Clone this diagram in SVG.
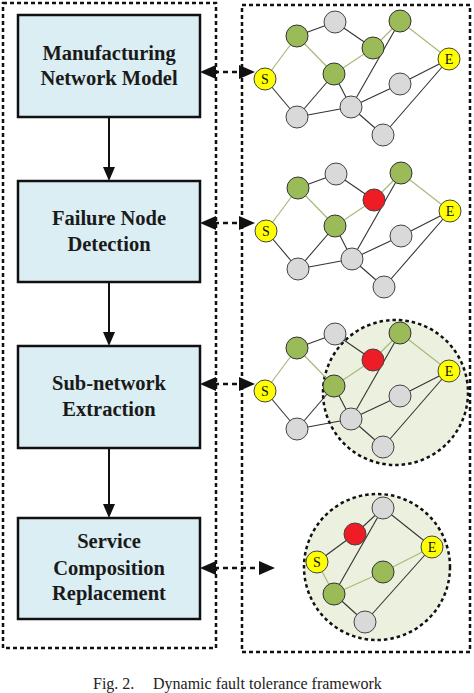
<svg xmlns="http://www.w3.org/2000/svg" width="474" height="693" viewBox="0 0 474 693">
<defs>
<style>
.frame{fill:none;stroke:#111;stroke-width:2.5;stroke-dasharray:4 3}
.box{fill:#dbeef3;stroke:#111;stroke-width:2.5}
.bt{font-family:"Liberation Serif","Times New Roman",serif;font-weight:bold;font-size:20.5px;fill:#1a1a1a;text-anchor:middle}
.cap{font-family:"Liberation Serif","Times New Roman",serif;font-size:16px;fill:#222}
.flow{stroke:#111;stroke-width:2;fill:none}
.bi{stroke:#111;stroke-width:2.5;stroke-dasharray:5 4;fill:none}
.eb{stroke:#333;stroke-width:1.1;fill:none}
.eg{stroke:#a9b97a;stroke-width:1.2;fill:none}
.g{fill:#9bbb59;stroke:#333;stroke-width:1}
.gr{fill:#d9d9d9;stroke:#444;stroke-width:1}
.y{fill:#ffff00;stroke:#444;stroke-width:1}
.r{fill:#ee1c24;stroke:#444;stroke-width:1}
.sub{fill:#ebf0df;stroke:#111;stroke-width:2.5;stroke-dasharray:3.5 3}
.nt{font-family:"Liberation Serif","Times New Roman",serif;font-size:14px;fill:#111;text-anchor:middle}
</style>
<marker id="ah" markerUnits="userSpaceOnUse" markerWidth="16" markerHeight="14" refX="2" refY="7" orient="auto-start-reverse">
<path d="M0,0 L16,7 L0,14 z" fill="#111"/>
</marker>
<marker id="dh" markerUnits="userSpaceOnUse" markerWidth="14" markerHeight="12" refX="2" refY="6" orient="auto">
<path d="M0,0 L14,6 L0,12 z" fill="#111"/>
</marker>
</defs>
<rect width="474" height="693" fill="#fff"/>
<rect class="frame" x="3" y="3" width="213" height="645"/>
<rect class="frame" x="242" y="5" width="228" height="647"/>

<g id="box1"><rect class="box" x="18" y="15" width="182" height="102"/>
<text class="bt" x="109" y="60">Manufacturing</text><text class="bt" x="109" y="85">Network Model</text></g>
<g id="box2"><rect class="box" x="18" y="181" width="182" height="101"/>
<text class="bt" x="109" y="225">Failure Node</text><text class="bt" x="109" y="251">Detection</text></g>
<g id="box3"><rect class="box" x="18" y="346" width="182" height="102"/>
<text class="bt" x="109" y="390">Sub-network</text><text class="bt" x="109" y="416">Extraction</text></g>
<g id="box4"><rect class="box" x="18" y="518" width="182" height="101"/>
<text class="bt" x="109" y="548">Service</text><text class="bt" x="109" y="575">Composition</text><text class="bt" x="109" y="600">Replacement</text></g>

<g id="connectors">
<line class="flow" x1="109" y1="117" x2="109" y2="169" marker-end="url(#dh)"/>
<line class="flow" x1="109" y1="282" x2="109" y2="334" marker-end="url(#dh)"/>
<line class="flow" x1="109" y1="448" x2="109" y2="506" marker-end="url(#dh)"/>
<line class="bi" x1="214" y1="72" x2="241" y2="72" marker-start="url(#ah)" marker-end="url(#ah)"/>
<line class="bi" x1="214" y1="223" x2="241" y2="223" marker-start="url(#ah)" marker-end="url(#ah)"/>
<line class="bi" x1="214" y1="384" x2="241" y2="384" marker-start="url(#ah)" marker-end="url(#ah)"/>
<line class="bi" x1="214" y1="568" x2="261" y2="568" marker-start="url(#ah)" marker-end="url(#ah)"/>
</g>

<!-- Panel 1 -->
<g id="net1">
<g id="net1-edges">
<line class="eg" x1="265" y1="79" x2="297" y2="36"/>
<line class="eb" x1="265" y1="79" x2="297" y2="117"/>
<line class="eb" x1="297" y1="36" x2="335" y2="22"/>
<line class="eg" x1="297" y1="36" x2="334" y2="74"/>
<line class="eb" x1="335" y1="22" x2="373" y2="48"/>
<line class="eg" x1="334" y1="74" x2="373" y2="48"/>
<line class="eg" x1="373" y1="48" x2="400" y2="21"/>
<line class="eg" x1="400" y1="21" x2="449" y2="59"/>
<line class="eb" x1="297" y1="117" x2="334" y2="74"/>
<line class="eb" x1="297" y1="117" x2="351" y2="107"/>
<line class="eb" x1="334" y1="74" x2="351" y2="107"/>
<line class="eb" x1="351" y1="107" x2="400" y2="21"/>
<line class="eb" x1="351" y1="107" x2="400" y2="84"/>
<line class="eb" x1="400" y1="84" x2="449" y2="59"/>
<line class="eb" x1="351" y1="107" x2="383" y2="135"/>
<line class="eb" x1="383" y1="135" x2="449" y2="59"/>
</g>
<g id="n1-S"><circle class="y" cx="265" cy="79" r="11"/><text class="nt" x="265" y="84">S</text></g>
<g id="n1-A"><circle class="g" cx="297" cy="36" r="11"/></g>
<g id="n1-T"><circle class="gr" cx="335" cy="22" r="11"/></g>
<g id="n1-M"><circle class="g" cx="373" cy="48" r="11"/></g>
<g id="n1-TR"><circle class="g" cx="400" cy="21" r="11"/></g>
<g id="n1-E"><circle class="y" cx="449" cy="59" r="11"/><text class="nt" x="449" y="64">E</text></g>
<g id="n1-B"><circle class="g" cx="334" cy="74" r="11"/></g>
<g id="n1-LL"><circle class="gr" cx="297" cy="117" r="11"/></g>
<g id="n1-C"><circle class="gr" cx="351" cy="107" r="11"/></g>
<g id="n1-R"><circle class="gr" cx="400" cy="84" r="11"/></g>
<g id="n1-Bt"><circle class="gr" cx="383" cy="135" r="11"/></g>
</g>

<!-- Panel 2 -->
<g id="net2" transform="translate(1,152)">
<g id="net2-edges">
<line class="eg" x1="265" y1="79" x2="297" y2="36"/>
<line class="eb" x1="265" y1="79" x2="297" y2="117"/>
<line class="eb" x1="297" y1="36" x2="335" y2="22"/>
<line class="eg" x1="297" y1="36" x2="334" y2="74"/>
<line class="eb" x1="335" y1="22" x2="373" y2="48"/>
<line class="eg" x1="334" y1="74" x2="373" y2="48"/>
<line class="eg" x1="373" y1="48" x2="400" y2="21"/>
<line class="eg" x1="400" y1="21" x2="449" y2="59"/>
<line class="eb" x1="297" y1="117" x2="334" y2="74"/>
<line class="eb" x1="297" y1="117" x2="351" y2="107"/>
<line class="eb" x1="334" y1="74" x2="351" y2="107"/>
<line class="eb" x1="351" y1="107" x2="400" y2="21"/>
<line class="eb" x1="351" y1="107" x2="400" y2="84"/>
<line class="eb" x1="400" y1="84" x2="449" y2="59"/>
<line class="eb" x1="351" y1="107" x2="383" y2="135"/>
<line class="eb" x1="383" y1="135" x2="449" y2="59"/>
</g>
<g id="n2-S"><circle class="y" cx="265" cy="79" r="11"/><text class="nt" x="265" y="84">S</text></g>
<g id="n2-A"><circle class="g" cx="297" cy="36" r="11"/></g>
<g id="n2-T"><circle class="gr" cx="335" cy="22" r="11"/></g>
<g id="n2-M"><circle class="r" cx="373" cy="48" r="11"/></g>
<g id="n2-TR"><circle class="g" cx="400" cy="21" r="11"/></g>
<g id="n2-E"><circle class="y" cx="449" cy="59" r="11"/><text class="nt" x="449" y="64">E</text></g>
<g id="n2-B"><circle class="g" cx="334" cy="74" r="11"/></g>
<g id="n2-LL"><circle class="gr" cx="297" cy="117" r="11"/></g>
<g id="n2-C"><circle class="gr" cx="351" cy="107" r="11"/></g>
<g id="n2-R"><circle class="gr" cx="400" cy="84" r="11"/></g>
<g id="n2-Bt"><circle class="gr" cx="383" cy="135" r="11"/></g>
</g>

<!-- Panel 3 -->
<g id="net3" transform="translate(0,312)">
<circle id="sub3" class="sub" cx="395.5" cy="80.5" r="72.5"/>
<g id="net3-edges">
<line class="eg" x1="265" y1="79" x2="297" y2="36"/>
<line class="eb" x1="265" y1="79" x2="297" y2="117"/>
<line class="eb" x1="297" y1="36" x2="335" y2="22"/>
<line class="eg" x1="297" y1="36" x2="334" y2="74"/>
<line class="eb" x1="335" y1="22" x2="373" y2="48"/>
<line class="eg" x1="334" y1="74" x2="373" y2="48"/>
<line class="eg" x1="373" y1="48" x2="400" y2="21"/>
<line class="eg" x1="400" y1="21" x2="449" y2="59"/>
<line class="eb" x1="297" y1="117" x2="334" y2="74"/>
<line class="eb" x1="297" y1="117" x2="351" y2="107"/>
<line class="eb" x1="334" y1="74" x2="351" y2="107"/>
<line class="eb" x1="351" y1="107" x2="400" y2="21"/>
<line class="eb" x1="351" y1="107" x2="400" y2="84"/>
<line class="eb" x1="400" y1="84" x2="449" y2="59"/>
<line class="eb" x1="351" y1="107" x2="383" y2="135"/>
<line class="eb" x1="383" y1="135" x2="449" y2="59"/>
</g>
<g id="n3-S"><circle class="y" cx="265" cy="79" r="11"/><text class="nt" x="265" y="84">S</text></g>
<g id="n3-A"><circle class="g" cx="297" cy="36" r="11"/></g>
<g id="n3-T"><circle class="gr" cx="335" cy="22" r="11"/></g>
<g id="n3-M"><circle class="r" cx="373" cy="48" r="11"/></g>
<g id="n3-TR"><circle class="g" cx="400" cy="21" r="11"/></g>
<g id="n3-E"><circle class="y" cx="449" cy="59" r="11"/><text class="nt" x="449" y="64">E</text></g>
<g id="n3-B"><circle class="g" cx="334" cy="74" r="11"/></g>
<g id="n3-LL"><circle class="gr" cx="297" cy="117" r="11"/></g>
<g id="n3-C"><circle class="gr" cx="351" cy="107" r="11"/></g>
<g id="n3-R"><circle class="gr" cx="400" cy="84" r="11"/></g>
<g id="n3-Bt"><circle class="gr" cx="383" cy="135" r="11"/></g>
</g>

<!-- Panel 4 -->
<g id="net4">
<circle id="sub4" class="sub" cx="377" cy="567" r="73"/>
<g id="net4-edges">
<line class="eb" x1="317" y1="562" x2="355" y2="534"/>
<line class="eb" x1="355" y1="534" x2="383" y2="508"/>
<line class="eb" x1="383" y1="508" x2="334" y2="594"/>
<line class="eb" x1="383" y1="508" x2="432" y2="547"/>
<line class="eg" x1="317" y1="562" x2="334" y2="594"/>
<line class="eg" x1="334" y1="594" x2="383" y2="572"/>
<line class="eg" x1="383" y1="572" x2="432" y2="547"/>
<line class="eb" x1="334" y1="594" x2="365" y2="622"/>
<line class="eb" x1="365" y1="622" x2="432" y2="547"/>
</g>
<g id="n4-T"><circle class="gr" cx="383" cy="508" r="11"/></g>
<g id="n4-Rd"><circle class="r" cx="355" cy="534" r="11"/></g>
<g id="n4-S"><circle class="y" cx="317" cy="562" r="11"/><text class="nt" x="317" y="567">S</text></g>
<g id="n4-E"><circle class="y" cx="432" cy="547" r="11"/><text class="nt" x="432" y="552">E</text></g>
<g id="n4-GM"><circle class="g" cx="383" cy="572" r="11"/></g>
<g id="n4-GL"><circle class="g" cx="334" cy="594" r="11"/></g>
<g id="n4-Gb"><circle class="gr" cx="365" cy="622" r="11"/></g>
</g>

<text class="cap" x="93" y="689">Fig. 2.</text>
<text class="cap" x="153" y="689">Dynamic fault tolerance framework</text>
</svg>
